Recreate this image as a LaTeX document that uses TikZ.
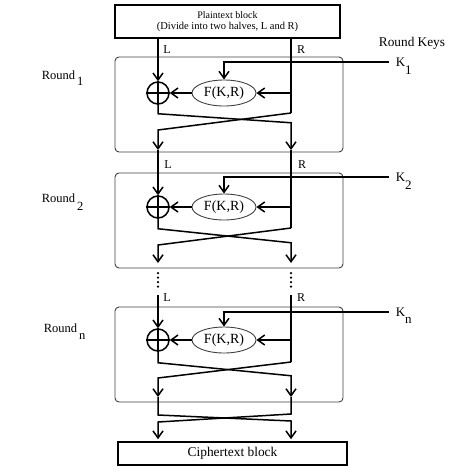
\documentclass[tikz,border=0pt]{standalone}
\usepackage{fontspec}
\setmainfont{Liberation Serif}
\usetikzlibrary{arrows.meta,shapes.geometric,positioning}

\begin{document}
\begin{tikzpicture}[x=1pt, y=-1pt, line width=1.5pt,
  >={Straight Barb[length=7pt,width=10pt]},
  blk/.style={draw, line width=1.6pt, inner sep=0pt, align=center},
  rnd/.style={draw=black!75, line width=0.9pt, rounded corners=4pt},
  xorn/.style={draw, circle, minimum size=22pt, inner sep=0pt, line width=1.5pt},
  fnode/.style={draw=black!75, ellipse, minimum width=64pt, minimum height=26pt, inner sep=0pt, line width=0.9pt, font=\fontsize{14}{14}\selectfont},
  side/.style={font=\fontsize{12}{12}\selectfont, inner sep=0pt},
  keyl/.style={font=\fontsize{13}{13}\selectfont, inner sep=0pt, anchor=base west},
  roundl/.style={font=\fontsize{12.5}{13}\selectfont, inner sep=0pt, anchor=base west},
  dots/.style={line width=2.5pt, line cap=round, dash pattern=on 0pt off 4.5pt}]
\useasboundingbox (0,0) rectangle (474,474);

% plaintext and ciphertext blocks
\node[blk, minimum width=225pt, minimum height=33pt] (plain) at (227.5,21.5)
  {\fontsize{10}{13}\selectfont Plaintext block\\[-1pt]\fontsize{10.5}{13}\selectfont (Divide into two halves, L and R)};
\node[blk, minimum width=229pt, minimum height=23pt, font=\fontsize{13.4}{14}\selectfont] (cipher) at (232.5,453.5) {Ciphertext block};
\node[font=\fontsize{13.3}{14}\selectfont, inner sep=0pt] (rkeys) at (412,43) {Round Keys};

% round 1
\draw[rnd] (115,57) rectangle (343,152);
\node[roundl] (r1) at (41,79) {Round\,\raisebox{-6pt}{1}};
\node[xorn] (x1) at (158,93) {};
\draw (x1.north) -- (x1.south) (x1.west) -- (x1.east);
\node[fnode] (f1) at (224,93) {F(K,R)};
\coordinate (k1e) at (389,62);
\node[keyl] (k1) at (395,66.5) {K\raisebox{-8pt}{1}};
\coordinate (b1) at (291,113);
\coordinate (a1) at (158,150);
\coordinate (c1) at (291,150);
\node[side] (l1) at (167,50) {L};
\node[side] (q1) at (301,50) {R};
\draw[->] (plain.south -| x1) -- (x1.north);
\draw (plain.south -| b1) -- (b1);
\draw[->] (b1 |- f1) -- (f1.east);
\draw[->] (f1.west) -- (x1.east);
\draw[->] (k1e) -| (f1.north);
\draw[->] (x1.south) -- ++(0,9) -- ++(133,9) -- (c1);
\draw[->] (b1) -- ++(-133,17) -- (a1);

% round 2
\draw[rnd] (115,173) rectangle (343,268);
\node[roundl] (r2) at (41,202) {Round\,\raisebox{-8pt}{2}};
\node[xorn] (x2) at (158,207) {};
\draw (x2.north) -- (x2.south) (x2.west) -- (x2.east);
\node[fnode] (f2) at (224,207) {F(K,R)};
\coordinate (k2e) at (389,177);
\node[keyl] (k2) at (395,181.5) {K\raisebox{-8pt}{2}};
\coordinate (b2) at (291,228);
\coordinate (a2) at (158,263);
\coordinate (c2) at (291,263);
\node[side] (l2) at (168,165) {L};
\node[side] (q2) at (302,165) {R};
\draw[->] (a1) -- (x2.north);
\draw (c1) -- (b2);
\draw[->] (b2 |- f2) -- (f2.east);
\draw[->] (f2.west) -- (x2.east);
\draw[->] (k2e) -| (f2.north);
\draw[->] (x2.south) -- ++(0,10) -- ++(133,14) -- (c2);
\draw[->] (b2) -- ++(-133,17) -- (a2);

% dots
\coordinate (sL) at (158,295);
\coordinate (sR) at (291,295);
\draw[dots, shorten <=10pt, shorten >=4pt] (a2) -- (sL);
\draw[dots, shorten <=10pt, shorten >=4pt] (c2) -- (sR);

% round n
\draw[rnd] (115,307) rectangle (343,402);
\node[roundl] (rn) at (43,332) {Round\,\raisebox{-7pt}{n}};
\node[xorn] (xn) at (158,340) {};
\draw (xn.north) -- (xn.south) (xn.west) -- (xn.east);
\node[fnode] (fn) at (224,340) {F(K,R)};
\coordinate (kne) at (389,312);
\node[keyl] (kn) at (395,316.5) {K\raisebox{-7pt}{n}};
\coordinate (bn) at (291,362);
\coordinate (an) at (158,397);
\coordinate (cn) at (291,397);
\node[side] (ln) at (167,298) {L};
\node[side] (qn) at (301,298) {R};
\draw[->] (sL) -- (xn.north);
\draw (sR) -- (bn);
\draw[->] (bn |- fn) -- (fn.east);
\draw[->] (fn.west) -- (xn.east);
\draw[->] (kne) -| (fn.north);
\draw[->] (xn.south) -- ++(0,11) -- ++(133,13) -- (cn);
\draw[->] (bn) -- ++(-133,16) -- (an);

% final swap
\draw[->, shorten >=2pt] (an) -- ++(0,18) -- ++(133,6) -- (cipher.north -| cn);
\draw[->, shorten >=2pt] (cn) -- ++(0,17) -- ++(-133,8) -- (cipher.north -| an);
\end{tikzpicture}
\end{document}
